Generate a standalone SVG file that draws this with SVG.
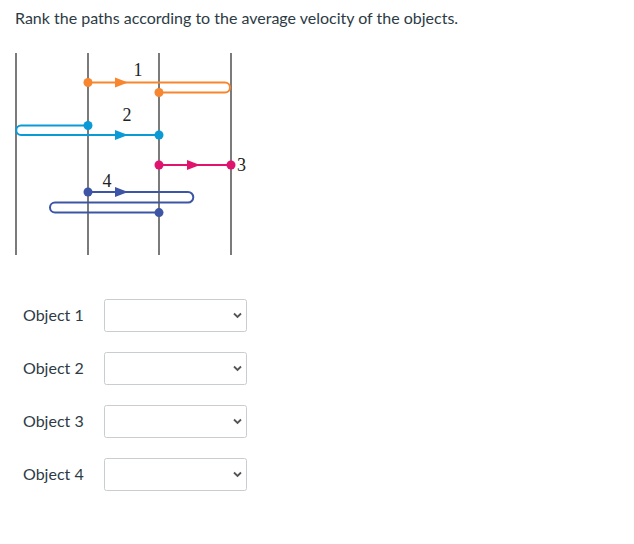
<svg xmlns="http://www.w3.org/2000/svg" width="634" height="544" viewBox="0 0 634 544">
<style>
.t{font-family:Lato,"Open Sans","Liberation Sans",sans-serif;font-size:16px;fill:#2d3b45}
.n{font-family:"Liberation Serif","DejaVu Serif",serif;font-size:18px;fill:#222}
.ax{stroke:#333;stroke-width:1.3}
.p{fill:none;stroke-width:2}
.box{fill:#fff;stroke:#c7cdd1;stroke-width:1}
.chev{fill:none;stroke:#555;stroke-width:1.8}
</style>
<rect width="634" height="544" fill="#fff"/>
<text class="t" x="15" y="24">Rank the paths according to the average velocity of the objects.</text>
<g id="axes">
<line class="ax" x1="16" y1="53" x2="16" y2="255"/>
<line class="ax" x1="88" y1="53" x2="88" y2="255"/>
<line class="ax" x1="159" y1="53" x2="159" y2="255"/>
<line class="ax" x1="231" y1="53" x2="231" y2="255"/>
</g>
<g id="connectors">
<path class="p" stroke="#f7862f" d="M88 82.5 H225 A5 5 0 0 1 225 92.5 H159"/>
<path fill="#f7862f" d="M115 77.5 L128 82.5 L115 87.5 Z"/>
<path class="p" stroke="#0a9ad6" d="M88 125.5 H21 A4.75 4.75 0 0 0 21 135 H159"/>
<path fill="#0a9ad6" d="M115 130 L128 135 L115 140 Z"/>
<path class="p" stroke="#e0136f" d="M159 165 H231"/>
<path fill="#e0136f" d="M187 160 L200 165 L187 170 Z"/>
<path class="p" stroke="#3c56a5" d="M88 192 H188 A5.3 5.3 0 0 1 188 202.6 H55 A5 5 0 0 0 55 212.6 H159"/>
<path fill="#3c56a5" d="M115 187 L128 192 L115 197 Z"/>
</g>
<g id="path1">
<circle cx="88" cy="82.5" r="4.5" fill="#f7862f"/>
<circle cx="159" cy="92.5" r="4.5" fill="#f7862f"/>
<text class="n" x="138" y="76" text-anchor="middle">1</text>
</g>
<g id="path2">
<circle cx="88" cy="125.5" r="4.5" fill="#0a9ad6"/>
<circle cx="159" cy="135" r="4.5" fill="#0a9ad6"/>
<text class="n" x="127" y="121" text-anchor="middle">2</text>
</g>
<g id="path3">
<circle cx="159" cy="165" r="4.5" fill="#e0136f"/>
<circle cx="231" cy="165" r="4.5" fill="#e0136f"/>
<text class="n" x="237" y="171">3</text>
</g>
<g id="path4">
<circle cx="88" cy="192" r="4.5" fill="#3c56a5"/>
<circle cx="159" cy="212.6" r="4.5" fill="#3c56a5"/>
<text class="n" x="107" y="187" text-anchor="middle">4</text>
</g>
<g id="object1">
<text class="t" x="23" y="321">Object 1</text>
<rect class="box" x="104.5" y="299.5" width="142" height="32" rx="2"/>
<path class="chev" d="M234 313.5 L237.5 317 L241 313.5"/>
</g>
<g id="object2">
<text class="t" x="23" y="374">Object 2</text>
<rect class="box" x="104.5" y="352.5" width="142" height="32" rx="2"/>
<path class="chev" d="M234 366.5 L237.5 370 L241 366.5"/>
</g>
<g id="object3">
<text class="t" x="23" y="427">Object 3</text>
<rect class="box" x="104.5" y="405.5" width="142" height="32" rx="2"/>
<path class="chev" d="M234 419.5 L237.5 423 L241 419.5"/>
</g>
<g id="object4">
<text class="t" x="23" y="480">Object 4</text>
<rect class="box" x="104.5" y="458.5" width="142" height="32" rx="2"/>
<path class="chev" d="M234 472.5 L237.5 476 L241 472.5"/>
</g>
</svg>
